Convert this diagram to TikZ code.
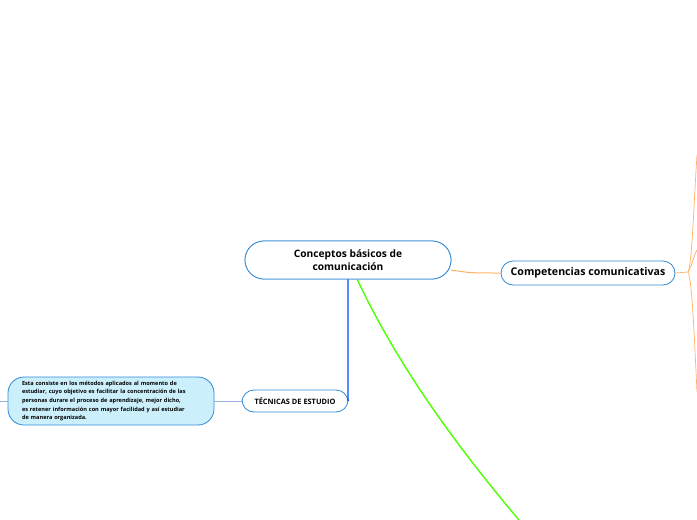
\documentclass[tikz,border=0pt]{standalone}
\usepackage{fontspec}
\setmainfont{Open Sans}
\definecolor{bord}{HTML}{2F8AD6}
\begin{document}
\begin{tikzpicture}[x=1pt,y=-1pt,
  topic/.style={draw=bord,line width=0.8pt,rounded corners=12pt,fill=white,font=\bfseries,align=center,inner sep=0pt},
  orange/.style={draw=orange!60,line width=0.7pt},
]
\useasboundingbox (0,0) rectangle (697,520);
\node[topic,minimum width=206,minimum height=38,rounded corners=19pt,font=\bfseries\fontsize{10.2}{13}\selectfont] (c) at (348,260) {Conceptos básicos de\\comunicación};
\node[topic,minimum width=174,minimum height=24,font=\bfseries\fontsize{10.6}{12}\selectfont] (cc) at (588,273) {Competencias comunicativas};
\node[topic,minimum width=106,minimum height=22,font=\bfseries\fontsize{7.4}{8}\selectfont] (te) at (295,401) {TÉCNICAS DE ESTUDIO};
\node[topic,fill=cyan!20,minimum width=206,minimum height=48,rounded corners=16pt,font=\bfseries\fontsize{5.6}{8.6}\selectfont,text width=196,align=left,inner xsep=5pt] (ds) at (111,401) {\hspace*{9pt}\parbox{185pt}{Esta consiste en los métodos aplicados al momento de\\estudiar, cuyo objetivo es facilitar la concentración de las\\personas durare el proceso de aprendizaje, mejor dicho,\\es retener información con mayor facilidad y así estudiar\\de manera organizada.}};
\coordinate (l0) at (0,401);
\coordinate (g1) at (519,520);
\coordinate (o1) at (697,155);
\coordinate (o2) at (697,250);
\coordinate (o3) at (697,392);
\draw[orange,line width=1pt] (c.east) ++(0,10) coordinate (ce) (ce) .. controls (470,273) .. (cc.west);
\draw[orange] (cc.east) -- (688,272) coordinate (j);
\draw[orange] (j) .. controls (692,265) and (694,200) .. (o1);
\draw[orange] (j) .. controls (692,266) and (694,255) .. (o2);
\draw[orange] (j) .. controls (692,280) and (694,330) .. (o3);
\draw[blue!70!cyan,line width=1.4pt] (348,279) -- (348,392) .. controls (348,401) .. (te.east);
\draw[cyan!40!blue!40,line width=1pt] (te.west) -- (ds.east);
\draw[cyan!40!blue!40,line width=1pt] (ds.west) -- (l0);
\draw[green!70!lime!90!yellow,line width=1.4pt] (357,279) .. controls (400,370) and (460,450) .. (g1);
\node[topic,minimum width=206,minimum height=38,rounded corners=19pt,font=\bfseries\fontsize{10.2}{13}\selectfont] at (348,260) {Conceptos básicos de\\comunicación};
\end{tikzpicture}
\end{document}
